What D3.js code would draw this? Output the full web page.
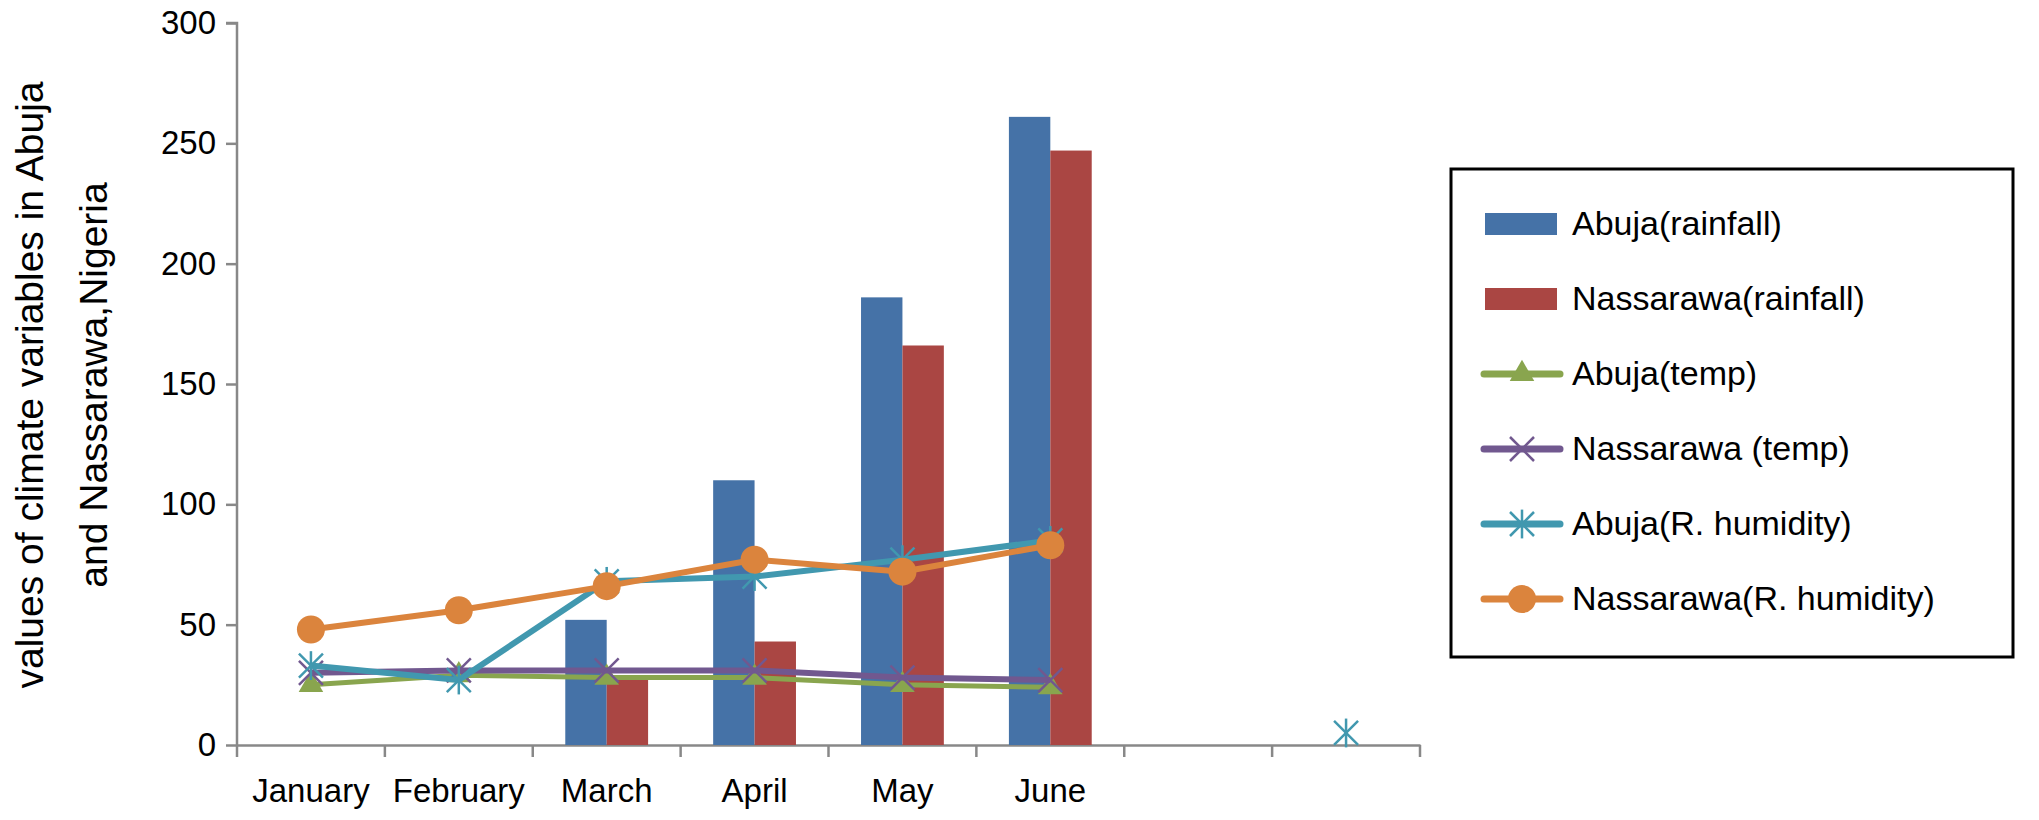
<!DOCTYPE html>
<html><head><meta charset="utf-8">
<script src="https://cdn.jsdelivr.net/npm/d3@7"></script>
<style>body{margin:0;background:#fff}</style>
</head><body><svg width="2039" height="820"></svg>
<script>
const months = ["January", "February", "March", "April", "May", "June", "", " "];
const abujaRain = [null, null, 52, 110, 186, 261, null, null];
const nassRain = [null, null, 28, 43, 166, 247, null, null];
const abujaTemp = [25, 29, 28, 28, 25, 24, null, null];
const nassTemp = [30, 31, 31, 31, 28, 27, null, null];
const abujaRH = [33, 27, 68, 70, 77, 85, null, 5];
const nassRH = [48, 56, 66, 77, 72, 83, null, null];
const yTicks = [0, 50, 100, 150, 200, 250, 300];

const svg = d3.select("svg");
const font = "'Liberation Sans Narrow', 'Liberation Sans', Arial, sans-serif";
const plotL = 237, plotR = 1420, plotT = 23, plotB = 745;

const x = d3.scaleBand().domain(months).range([plotL, plotR]);
const y = d3.scaleLinear().domain([0, 300]).range([plotB, plotT]);
const barW = x.bandwidth() * 0.28;
const cx = (i) => x(months[i]) + x.bandwidth() / 2;

// axes
const yAxis = svg.append("g").attr("transform", `translate(${plotL},0)`)
  .call(d3.axisLeft(y).tickValues(yTicks).tickSize(11).tickPadding(10));
const xAxis = svg.append("g").attr("transform", `translate(0,${plotB})`)
  .call(d3.axisBottom(x).tickSize(0).tickPadding(34));
[yAxis, xAxis].forEach(g => {
  g.select(".domain").attr("stroke", "#888").attr("stroke-width", 2.5);
  g.selectAll("line").attr("stroke", "#888").attr("stroke-width", 2.5);
  g.selectAll("text").attr("font-family", font).attr("font-size", 33).attr("fill", "#000");
});
yAxis.select(".domain").attr("d", `M-11,${plotT}H0V${plotB}`);
xAxis.selectAll(".tk").data(d3.range(months.length + 1)).enter().append("line")
  .attr("x1", i => plotL + i * x.step()).attr("x2", i => plotL + i * x.step())
  .attr("y1", 0).attr("y2", 12).attr("stroke", "#888").attr("stroke-width", 2.5);

// bars
const bars = [[abujaRain, "#4572a7", -1], [nassRain, "#aa4643", 0]];
bars.forEach(([vals, col, off]) => {
  svg.append("g").selectAll("rect").data(vals.map((v, i) => ({v, i})).filter(d => d.v != null))
    .enter().append("rect")
    .attr("x", d => cx(d.i) + off * barW).attr("width", barW)
    .attr("y", d => y(d.v)).attr("height", d => y(0) - y(d.v)).attr("fill", col);
});

// lines
const lineGen = d3.line().defined(d => d.v != null).x(d => cx(d.i)).y(d => y(d.v));
function marker(g, type, col, px, py) {
  if (type === "tri") g.append("path").attr("d", d3.symbol(d3.symbolTriangle, 260)())
    .attr("transform", `translate(${px},${py})`).attr("fill", col);
  else if (type === "circle") g.append("circle").attr("cx", px).attr("cy", py).attr("r", 14).attr("fill", col);
  else {
    const r = 12;
    const segs = type === "x" ? [[-r, -r, r, r], [-r, r, r, -r]]
      : [[-r, -r, r, r], [-r, r, r, -r], [0, -r * 1.2, 0, r * 1.2]];
    segs.forEach(s => g.append("line").attr("x1", px + s[0]).attr("y1", py + s[1])
      .attr("x2", px + s[2]).attr("y2", py + s[3]).attr("stroke", col).attr("stroke-width", 2.5));
  }
}
const series = [
  ["Abuja(temp)", abujaTemp, "#89a54e", "tri", 5],
  ["Nassarawa (temp)", nassTemp, "#71588f", "x", 6],
  ["Abuja(R. humidity)", abujaRH, "#4198af", "star", 6],
  ["Nassarawa(R. humidity)", nassRH, "#db843d", "circle", 6]
];
series.forEach(([name, vals, col, type, w]) => {
  const g = svg.append("g");
  g.append("path").datum(vals.slice(0, 6).map((v, i) => ({v, i})))
    .attr("d", lineGen).attr("fill", "none").attr("stroke", col).attr("stroke-width", w)
    .attr("stroke-linejoin", "round");
  vals.map((v, i) => ({v, i})).filter(d => d.v != null)
    .forEach(d => marker(g, type, col, cx(d.i), y(d.v)));
});

// y title
svg.append("text").attr("transform", "translate(0,385) rotate(-90)")
  .attr("text-anchor", "middle").attr("font-family", "'Liberation Sans', Arial, sans-serif")
  .attr("font-size", 39).selectAll("tspan")
  .data(["values of climate variables in Abuja", "and Nassarawa,Nigeria"]).enter().append("tspan")
  .attr("x", 0).attr("dy", (d, i) => i ? 64 : 43).text(d => d);

// legend
const lg = svg.append("g");
lg.append("rect").attr("x", 1451).attr("y", 169).attr("width", 562).attr("height", 488)
  .attr("fill", "none").attr("stroke", "#000").attr("stroke-width", 3);
const items = [["Abuja(rainfall)", "#4572a7", "bar"], ["Nassarawa(rainfall)", "#aa4643", "bar"]]
  .concat(series.map(s => [s[0], s[2], s[3]]));
items.forEach(([name, col, type], i) => {
  const ly = 224 + i * 75;
  if (type === "bar") lg.append("rect").attr("x", 1485).attr("y", ly - 11).attr("width", 72).attr("height", 22).attr("fill", col);
  else {
    lg.append("line").attr("x1", 1484).attr("x2", 1560).attr("y1", ly).attr("y2", ly)
      .attr("stroke", col).attr("stroke-width", 7).attr("stroke-linecap", "round");
    marker(lg, type, col, 1522, ly);
  }
  lg.append("text").attr("x", 1572).attr("y", ly + 11).attr("font-family", font)
    .attr("font-size", 34).text(name);
});
</script></body></html>
